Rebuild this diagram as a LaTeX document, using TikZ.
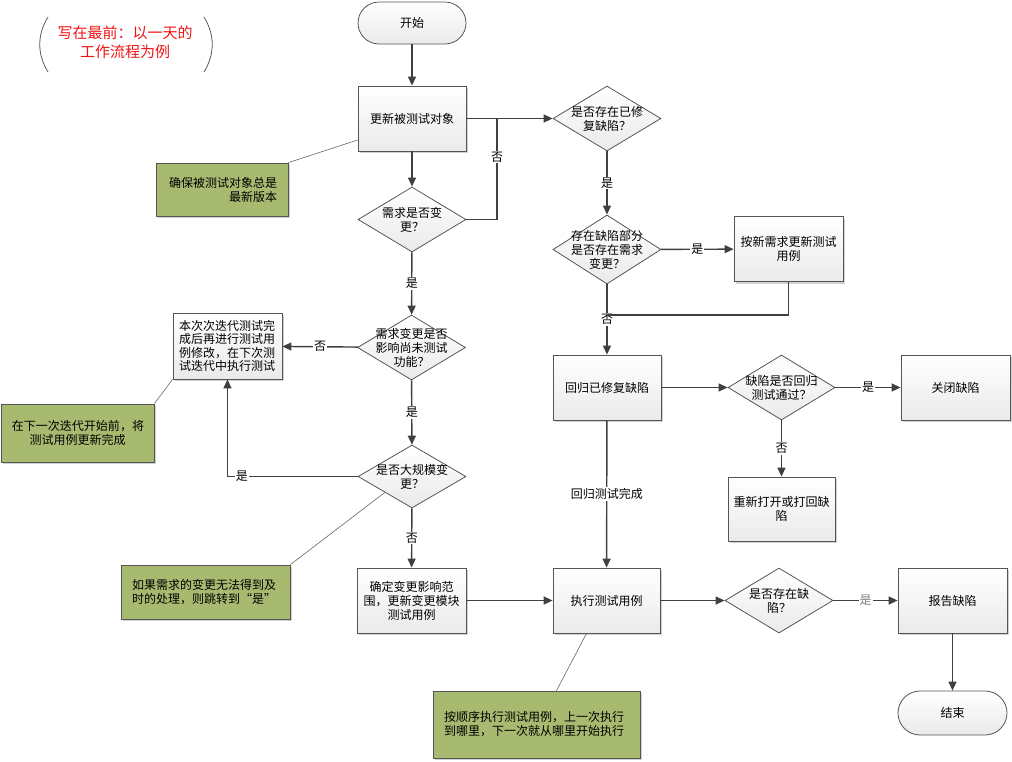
\documentclass[tikz,border=0pt]{standalone}
\usepackage{fontspec}
\setmainfont{Noto Sans CJK SC}
\usetikzlibrary{arrows.meta,shapes.geometric,shadows,calc}
\definecolor{lncol}{RGB}{64,64,64}
\definecolor{bdcol}{RGB}{85,85,85}
\definecolor{notegreen}{RGB}{168,186,112}
\definecolor{boxbot}{RGB}{234,234,234}
\definecolor{titlered}{RGB}{240,20,20}
\begin{document}
\begin{tikzpicture}[x=1pt,y=-1pt,
  font=\fontsize{12}{14}\selectfont,
  shad/.style={drop shadow={shadow xshift=2pt,shadow yshift=-2pt,opacity=0.18,fill=black}},
  box/.style={rectangle, draw=bdcol, line width=0.8pt, top color=white, bottom color=boxbot,
    minimum width=108pt, minimum height=65pt, inner sep=2pt, align=center, shad},
  dia/.style={diamond, draw=bdcol, line width=0.8pt, top color=white, bottom color=boxbot,
    minimum width=108pt, minimum height=65pt, inner sep=0pt},
  dtext/.style={align=center, inner sep=0pt, font=\fontsize{12}{14}\selectfont},
  term/.style={rectangle, rounded corners=21pt, draw=bdcol, line width=0.8pt, top color=white,
    bottom color=boxbot, minimum width=108pt, minimum height=42pt},
  note/.style={rectangle, draw=bdcol, line width=0.8pt, fill=notegreen, inner ysep=2pt,
    inner xsep=11pt, shad},
  arr/.style={draw=lncol, line width=1.4pt, -{Triangle[length=9pt,width=8pt]}},
  plain/.style={draw=lncol, line width=1.4pt},
  lbl/.style={fill=white, inner sep=1pt, font=\fontsize{12}{14}\selectfont},
  nline/.style={draw=gray!80!black, line width=0.6pt},
]
\useasboundingbox (0,0) rectangle (1012,761);

% title
\node[text=titlered, font=\fontsize{15}{19}\selectfont, align=center] (title) at (125,42)
  {写在最前：以一天的\\工作流程为例};
\draw[gray!70!black, line width=0.8pt] (48,17) .. controls (37,35) and (37,54) .. (48,72);
\draw[gray!70!black, line width=0.8pt] (204,17) .. controls (215,35) and (215,54) .. (204,72);

% main column
\node[term] (start) at (412,23) {开始};
\node[box] (b1) at (412,118.5) {更新被测试对象};
\node[dia, label={[dtext]center:需求是否变\\更？}] (d1) at (412,219.5) {};
\node[dia, label={[dtext]center:需求变更是否\\影响尚未测试\\功能？}] (d6) at (411.5,347.5) {};
\node[box, minimum width=109pt, minimum height=66pt, text width=97pt, align=left,
  font=\fontsize{12}{13.5}\selectfont] (b9) at (227.5,346)
  {本次次迭代测试完\\成后再进行测试用\\例修改，在下次测\\试迭代中执行测试};
\node[dia, minimum height=63pt, label={[dtext]center:是否大规模变\\更？}] (d7) at (412,476.5) {};
\node[box, minimum width=109pt, font=\fontsize{12}{14}\selectfont] (b10) at (411.5,600.5)
  {确定变更影响范\\围，更新变更模块\\测试用例};

% right columns
\node[dia, label={[dtext]center:是否存在已修\\复缺陷？}] (d2) at (607,118.5) {};
\node[dia, minimum height=69pt, label={[dtext]center:存在缺陷部分\\是否存在需求\\变更？}] (d3) at (607,249.5) {};
\node[box, minimum width=109pt] (b3) at (788.5,249) {按新需求更新测试\\用例};
\node[box] (b4) at (607,387.5) {回归已修复缺陷};
\node[dia, minimum width=107pt, label={[dtext]center:缺陷是否回归\\测试通过？}] (d4) at (781.5,387.5) {};
\node[box, minimum width=109pt] (b5) at (955.5,387.5) {关闭缺陷};
\node[box, minimum width=107pt, minimum height=64pt] (b6) at (781.5,509) {重新打开或打回缺\\陷};
\node[box, minimum width=107pt] (b7) at (606.5,600.5) {执行测试用例};
\node[dia, label={[dtext]center:是否存在缺\\陷？}] (d5) at (779,600.5) {};
\node[box, minimum width=109pt] (b8) at (952.5,600.5) {报告缺陷};
\node[term, minimum width=109pt, minimum height=44pt, rounded corners=22pt] (end) at (952.5,713) {结束};

% notes
\node[note, minimum width=132pt, minimum height=53pt, text width=110pt, align=right] (n1) at (222,189.5)
  {确保被测试对象总是\\最新版本};
\node[note, minimum width=153pt, minimum height=58pt, text width=131pt, align=center] (n2) at (77.5,433)
  {在下一次迭代开始前，将\\测试用例更新完成};
\node[note, minimum width=169pt, minimum height=54pt, text width=147pt, align=left] (n4) at (205.5,592)
  {如果需求的变更无法得到及\\时的处理，则跳转到“是”};
\node[note, minimum width=207pt, minimum height=67pt, text width=185pt, align=left] (n3) at (536.5,724.5)
  {按顺序执行测试用例，上一次执行\\到哪里，下一次就从哪里开始执行};

% junction coordinates
\coordinate (j1) at (497,118.5);
\coordinate (j2) at (607,315);

% connectors
\draw[arr] (start) -- (b1);
\draw[arr] (b1) -- (d1);
\draw[arr] (b1.east) -- (d2.west);
\draw[plain] (d1.east) -| (j1) node[lbl, pos=0.81] {否};
\draw[arr] (d2) -- node[lbl] {是} (d3);
\draw[arr] (d3) -- node[lbl] {是} (b3);
\draw[arr] (d3) -- node[lbl, pos=0.5] {否} (b4);
\draw[plain] (b3.south) |- (j2);
\draw[arr] (b4) -- (d4);
\draw[arr] (d4) -- node[lbl] {是} (b5);
\draw[arr] (d4) -- node[lbl] {否} (b6);
\draw[arr] (b4) -- node[lbl] {回归测试完成} (b7);
\draw[arr] (b7) -- (d5);
\draw[arr] (d5) -- node[lbl, text=gray] {是} (b8);
\draw[arr] (b8) -- (end);
\draw[arr] (d1) -- node[lbl] {是} (d6);
\draw[arr] (d6) -- node[lbl] {否} (b9);
\draw[arr] (d6) -- node[lbl] {是} (d7);
\draw[arr] (d7.west) -| node[lbl, pos=0.445] {是} (b9.south);
\draw[arr] (d7) -- node[lbl] {否} (b10);
\draw[arr] (b10) -- (b7);

% note pointers
\draw[nline] (n1.north east) -- ($(b1.west)+(0,21.5)$);
\draw[nline] (n2.north east) -- (b9.south west);
\draw[nline] (n4.north east) -- (d7.south west);
\draw[nline] ($(n3.north)+(20,0)$) -- ($(b7.south)+(-20,0)$);
\end{tikzpicture}
\end{document}
